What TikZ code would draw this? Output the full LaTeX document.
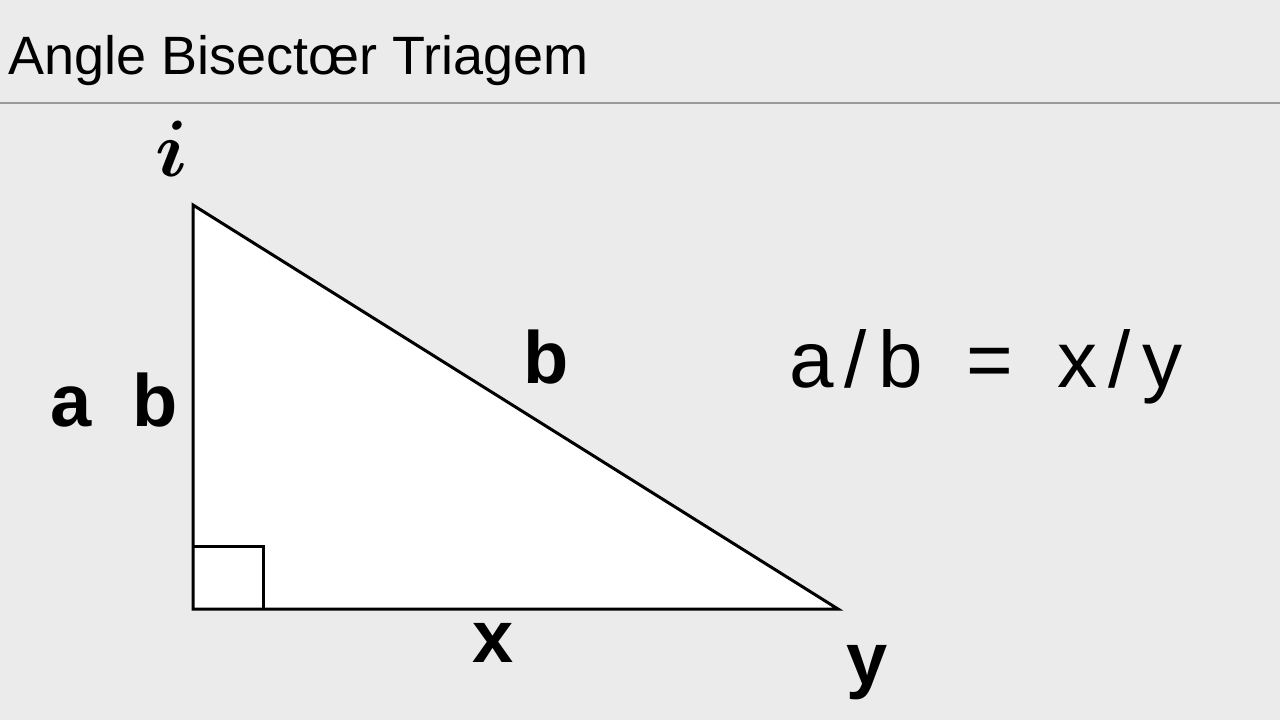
\documentclass[tikz,border=0pt]{standalone}
\usepackage{fontspec}
\setmainfont{Liberation Sans}
\usepackage{tikz}
\usetikzlibrary{positioning,calc}
\definecolor{bgray}{HTML}{EBEBEB}
\definecolor{rulegray}{HTML}{9A9A9A}
\tikzset{
  lbl/.style={font=\fontsize{74}{76}\selectfont\bfseries, inner sep=0pt, anchor=base},
  eqn/.style={font=\fontsize{80}{84}\selectfont\addfontfeatures{LetterSpace=14}, inner sep=0pt}
}

\begin{document}
\begin{tikzpicture}[x=1pt,y=-1pt]
    % background
    \fill[bgray] (0,0) rectangle (1280,720);
    \useasboundingbox (0,0) rectangle (1280,720);

    % title
    \node [anchor=base west, inner sep=0pt, font=\fontsize{54}{58}\selectfont] (title) at (8,74) {Angle Bisectœr Triagem};
    \draw [rulegray, line width=2.5pt] (0,103) -- (1280,103);

    % triangle
    \coordinate (top) at (193,205);
    \coordinate (corner) at (193,609);
    \coordinate (right) at (838,609);
    \fill [white] (top) -- (corner) -- (right) -- cycle;
    \draw [line width=3pt, line join=miter] (top) -- (corner) -- (right) -- cycle;
    \draw [line width=3pt] (193,546) -- (263,546) -- (263,609);

    % labels
    \node [inner sep=0pt, anchor=base, scale=8, font=\normalsize\boldmath] (ilbl) at (172,176) {$i$};
    \node [lbl] (ab) at (114,426) {a\hspace{0.55em}b};
    \node [lbl] (blbl) at (546,383) {b};
    \node [lbl] (xlbl) at (493,662) {x};
    \node [lbl] (ylbl) at (867,684) {y};

    % ratio
    \node [eqn, anchor=base west] (ratio) at (789,387) {a/b\hspace{0.55em}=\hspace{0.55em}x/y};
\end{tikzpicture}
\end{document}
